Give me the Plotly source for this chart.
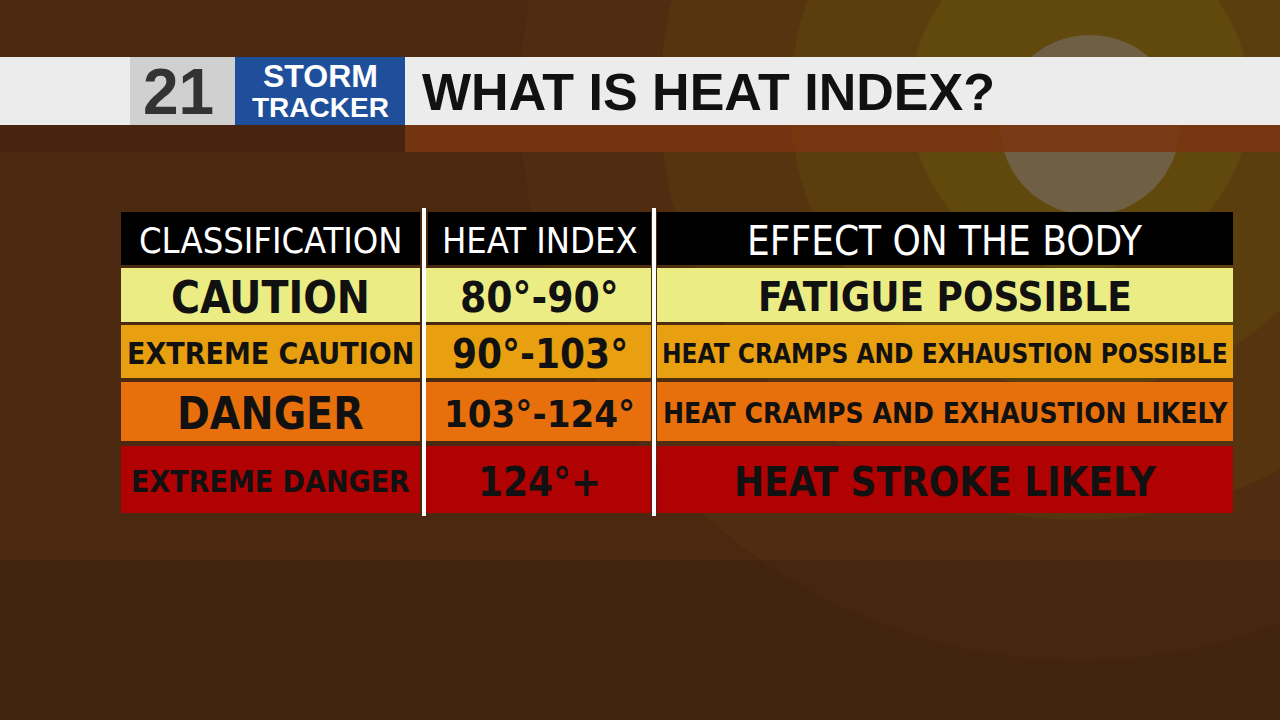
import plotly.graph_objects as go

# table data
headers = ["CLASSIFICATION", "HEAT INDEX", "EFFECT ON THE BODY"]
classes = ["CAUTION", "EXTREME CAUTION", "DANGER", "EXTREME DANGER"]
ranges = ["80°-90°", "90°-103°", "103°-124°", "124°+"]
effects = ["FATIGUE POSSIBLE", "HEAT CRAMPS AND EXHAUSTION POSSIBLE",
           "HEAT CRAMPS AND EXHAUSTION LIKELY", "HEAT STROKE LIKELY"]
row_colors = ["#ecec84", "#e9a010", "#e8700c", "#b00202"]
class_sizes = [44, 30, 44, 30]
range_sizes = [42, 40, 38, 40]
effect_sizes = [40, 26, 28, 40]
header_sizes = [36, 36, 40]

# layout in pixels
col_x = [(121, 420), (428, 651), (657, 1233)]
row_y = [(212, 265), (268, 322), (325, 378), (382, 441), (446, 513)]
NARROW = "Liberation Sans Narrow, DejaVu Sans Condensed, Arial Narrow, sans-serif"

fig = go.Figure()
shapes, ann = [], []

# background glow
shapes.append(dict(type="rect", x0=0, x1=1280, y0=0, y1=720, fillcolor="#4b2810", line_width=0, layer="below"))
for r, c in [(560, "rgba(95,60,15,0.25)"), (420, "rgba(100,75,12,0.25)"), (290, "rgba(105,85,12,0.3)"), (170, "rgba(110,95,15,0.35)")]:
    shapes.append(dict(type="circle", x0=1080 - r, x1=1080 + r, y0=100 - r, y1=100 + r,
                       fillcolor=c, line_width=0, layer="below"))
shapes.append(dict(type="circle", x0=1000, x1=1180, y0=35, y1=215, fillcolor="rgba(120,110,105,0.6)", line_width=0, layer="below"))
shapes.append(dict(type="rect", x0=0, x1=1280, y0=560, y1=720, fillcolor="rgba(40,18,8,0.25)", line_width=0, layer="below"))

# banner
shapes.append(dict(type="rect", x0=0, x1=1280, y0=125, y1=152, fillcolor="rgba(70,35,15,0.8)", line_width=0))
shapes.append(dict(type="rect", x0=405, x1=1280, y0=125, y1=152, fillcolor="rgba(170,70,20,0.45)", line_width=0))
shapes.append(dict(type="rect", x0=0, x1=1280, y0=57, y1=125, fillcolor="#ececec", line_width=0))
shapes.append(dict(type="rect", x0=130, x1=235, y0=57, y1=125, fillcolor="#d0d0d0", line_width=0))
shapes.append(dict(type="rect", x0=235, x1=405, y0=57, y1=125, fillcolor="#1f4f9a", line_width=0))
ann.append(dict(x=178, y=92, text="<b>21</b>", font=dict(size=64, color="#333", family="Liberation Sans"), showarrow=False))
ann.append(dict(x=320, y=76, text="<b>STORM</b>", font=dict(size=32, color="white", family="Liberation Sans"), showarrow=False))
ann.append(dict(x=320, y=107, text="<b>TRACKER</b>", font=dict(size=28, color="white", family="Liberation Sans"), showarrow=False))
ann.append(dict(x=420, y=92, xanchor="left", text="<b>WHAT IS HEAT INDEX?</b>",
                font=dict(size=52, color="#111", family="Liberation Sans"), showarrow=False))

# header row
for (x0, x1), h, sz in zip(col_x, headers, header_sizes):
    shapes.append(dict(type="rect", x0=x0, x1=x1, y0=row_y[0][0], y1=row_y[0][1], fillcolor="black", line_width=0))
    ann.append(dict(x=(x0 + x1) / 2, y=sum(row_y[0]) / 2 + 2, text=h, showarrow=False,
                    font=dict(size=sz, color="white", family=NARROW)))

# body rows
for i in range(len(classes)):
    y0, y1 = row_y[i + 1]
    ym = (y0 + y1) / 2 + 2
    for (x0, x1), txt, sz in zip(col_x, [classes[i], ranges[i], effects[i]],
                                 [class_sizes[i], range_sizes[i], effect_sizes[i]]):
        shapes.append(dict(type="rect", x0=x0 if x0 != 428 else 426, x1=x1, y0=y0, y1=y1,
                           fillcolor=row_colors[i], line_width=0))
        ann.append(dict(x=(x0 + x1) / 2, y=ym, text="<b>" + txt + "</b>", showarrow=False,
                        font=dict(size=sz, color="#111", family=NARROW)))

# dividers
for x in (424, 654):
    shapes.append(dict(type="line", x0=x, x1=x, y0=208, y1=516, line=dict(color="white", width=4)))

fig.update_layout(
    width=1280, height=720, margin=dict(l=0, r=0, t=0, b=0),
    xaxis=dict(range=[0, 1280], visible=False), yaxis=dict(range=[720, 0], visible=False),
    plot_bgcolor="#4b2810", paper_bgcolor="#4b2810",
    shapes=shapes, annotations=ann, showlegend=False,
)
fig.write_html("out.html", config={"displayModeBar": False},
               post_script="document.body.style.margin='0';document.body.style.overflow='hidden';")
